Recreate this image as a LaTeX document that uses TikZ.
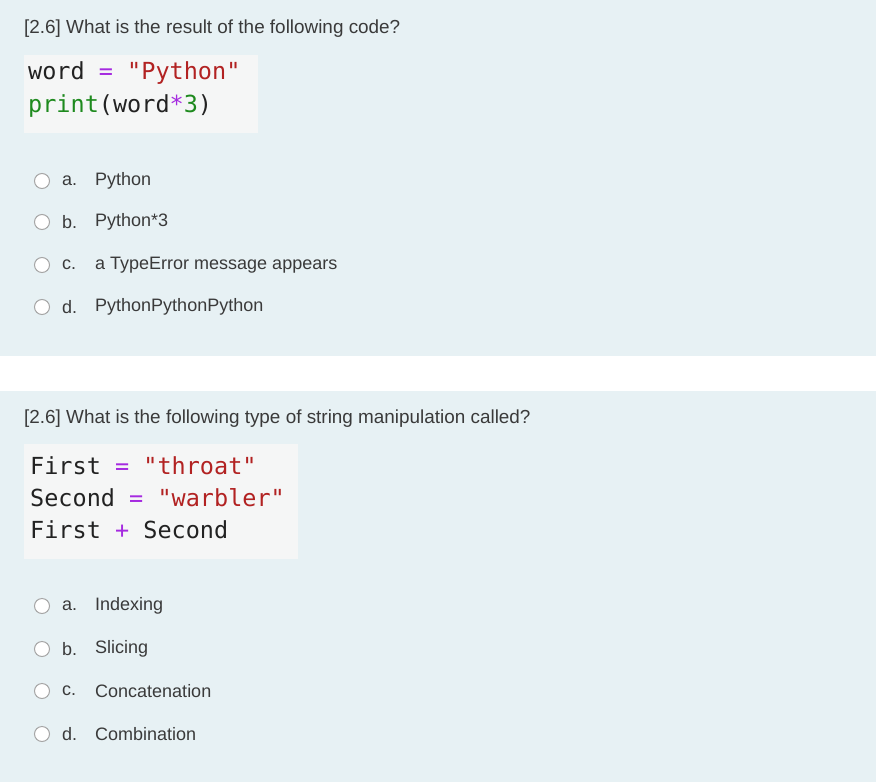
\documentclass[tikz,border=0pt]{standalone}
\usepackage{fontspec}
\setmainfont{Liberation Sans}
\newfontfamily\codefont{DejaVu Sans Mono}
\definecolor{panel}{HTML}{E7F1F4}
\definecolor{codebg}{HTML}{F5F6F6}
\definecolor{txt}{HTML}{3A3A3A}
\definecolor{kw}{HTML}{1E8A1E}
\definecolor{str}{HTML}{B22222}
\definecolor{op}{HTML}{A52AE0}
\definecolor{ident}{HTML}{222222}
\begin{document}
\begin{tikzpicture}[x=1pt,y=-1pt,
  q/.style={anchor=west,text=txt,font=\fontsize{18.9}{21}\selectfont,inner sep=0},
  opt/.style={anchor=west,text=txt,font=\fontsize{18}{20}\selectfont,inner sep=0},
  code/.style={anchor=west,text=ident,font=\codefont\fontsize{23.5}{26}\selectfont,inner sep=0},
  radio/.style={circle,draw=gray!70,fill=white,line width=1pt,minimum size=15pt,inner sep=0}]
\useasboundingbox (0,0) rectangle (876,782);
\fill[white] (0,0) rectangle (876,782);
\fill[panel] (0,0) rectangle (876,356);
\fill[panel] (0,391) rectangle (876,782);
\fill[codebg] (24,55) rectangle (258,133);
\fill[codebg] (24,444) rectangle (298,559);
\node[q] (q1) at (24,29) {[2.6] What is the result of the following code?};
\node[code] (c1) at (28,73) {word \textcolor{op}{=} \textcolor{str}{"Python"}};
\node[code] (c2) at (28,106) {\textcolor{kw}{print}(word\textcolor{op}{*}\textcolor{kw}{3})};
\foreach \y/\l/\t [count=\i] in {181/a./Python,222/b./Python*3,265/c./a TypeError message appears,307/d./PythonPythonPython}{
  \node[radio] (r\i) at (42,\y) {};
  \node[opt] (l\i) at (62,\y) {\l};
  \node[opt] (t\i) at (95,\y) {\t};
}
\node[q] (q2) at (24,419) {[2.6] What is the following type of string manipulation called?};
\node[code] (d1) at (30,466) {First \textcolor{op}{=} \textcolor{str}{"throat"}};
\node[code] (d2) at (30,498) {Second \textcolor{op}{=} \textcolor{str}{"warbler"}};
\node[code] (d3) at (30,530) {First \textcolor{op}{+} Second};
\foreach \y/\l/\t [count=\i] in {606/a./Indexing,649/b./Slicing,691/c./Concatenation,734/d./Combination}{
  \node[radio] (s\i) at (42,\y) {};
  \node[opt] (m\i) at (62,\y) {\l};
  \node[opt] (u\i) at (95,\y) {\t};
}
\end{tikzpicture}
\end{document}
